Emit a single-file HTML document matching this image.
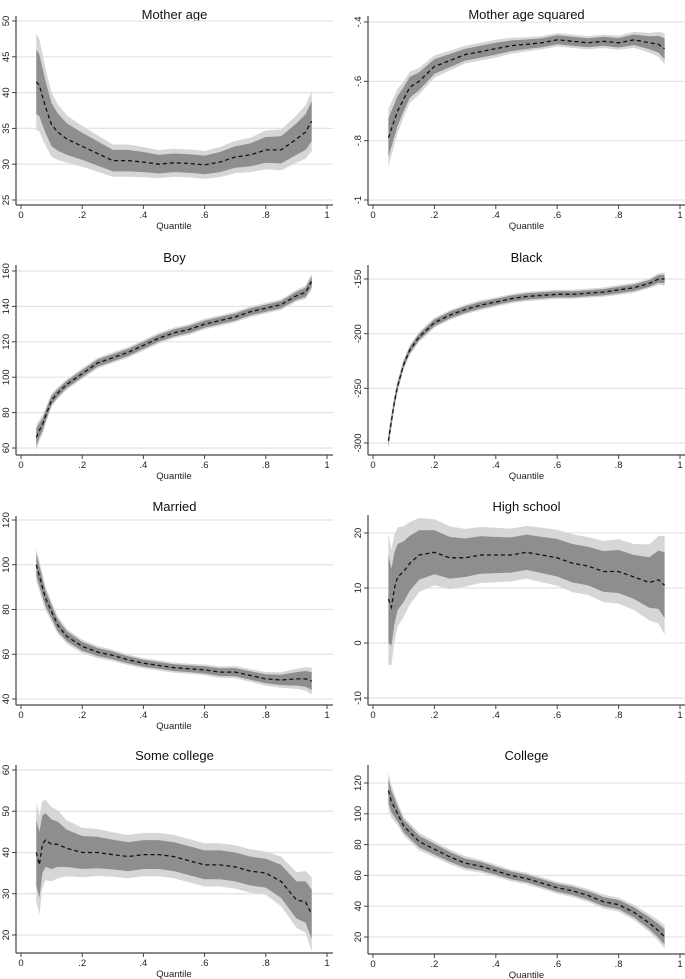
<!DOCTYPE html>
<html><head><meta charset="utf-8">
<style>
html,body{margin:0;padding:0;background:#fff;}
svg{display:block;font-family:"Liberation Sans",Arial,sans-serif;}
</style></head>
<body>
<svg id="fig" width="685" height="979" viewBox="0 0 685 979" xmlns="http://www.w3.org/2000/svg"></svg>
<script>
// Shared quantile grid
const quantiles = [0.05,0.06,0.07,0.08,0.10,0.12,0.15,0.20,0.25,0.30,0.35,0.40,0.45,0.50,0.55,0.60,0.65,0.70,0.75,0.80,0.85,0.90,0.93,0.95];
const xTickValues = [0,0.2,0.4,0.6,0.8,1];
const xTickLabels = ["0",".2",".4",".6",".8","1"];

// Mother age
const motherAgeCoef = [41.5,41,39.5,38,35.5,34.5,33.5,32.5,31.5,30.5,30.5,30.3,30,30.2,30.1,29.9,30.3,31,31.3,32,32,33.5,34.5,36];
const motherAgeHW   = [4.5,4.3,4,3.6,3,2.6,2.2,1.9,1.7,1.5,1.5,1.4,1.3,1.3,1.3,1.3,1.4,1.5,1.6,1.8,1.9,2.2,2.5,2.8];
const motherAgeTicks = [25,30,35,40,45,50];
// Mother age squared
const motherAgeSqCoef = [-0.79,-0.76,-0.73,-0.70,-0.66,-0.62,-0.60,-0.55,-0.53,-0.51,-0.50,-0.49,-0.48,-0.475,-0.47,-0.46,-0.465,-0.47,-0.465,-0.47,-0.46,-0.47,-0.475,-0.49];
const motherAgeSqHW   = [0.065,0.06,0.055,0.05,0.04,0.035,0.03,0.025,0.022,0.02,0.02,0.02,0.018,0.016,0.015,0.015,0.015,0.015,0.015,0.016,0.018,0.022,0.028,0.035];
const motherAgeSqTicks = [-1,-0.8,-0.6,-0.4];
const motherAgeSqLabels = ["-1","-.8","-.6","-.4"];
// Boy
const boyCoef = [66,70,73,78,87,91,96,102,108,111,114,118,122,125,127,130,132,134,137,139,141,146,148,154];
const boyHW   = [5,4,3.5,3,2.5,2.2,2,2,2,2,2,2,2,2,2,2,2,2,2,2,2,2.2,2.5,3];
const boyTicks = [60,80,100,120,140,160];
// Black
const blackCoef = [-298,-280,-262,-248,-228,-215,-203,-190,-183,-178,-174,-171,-168,-166,-165,-164,-164,-163,-162,-160,-158,-154,-150,-150];
const blackHW   = [5,4.5,4,3.5,3,3,3,3,3,3,3,2.8,2.8,2.8,2.8,2.8,2.8,2.8,2.8,3,3,3,3.5,4];
const blackTicks = [-300,-250,-200,-150];
// Married
const marriedCoef = [100,95,90,85,79,73,68,63.5,61,59.5,57.5,56,55,54,53.5,53,52,52,50.5,49,48.5,49,49,48];
const marriedHW   = [5,4.5,4,3.5,3,2.6,2.2,2,1.8,1.7,1.6,1.5,1.5,1.5,1.5,1.6,1.7,1.8,1.9,2,2.3,3,3.5,4];
const marriedTicks = [40,60,80,100,120];
// High school
const hsCoef = [8,6.5,10,12,13,14.5,16,16.5,15.5,15.5,16,16,16,16.5,16,15.5,14.5,14,13,13,12,11,11.5,10.5];
const hsHW   = [8,7,6.5,6,5.5,5,4.5,4,3.8,3.5,3.4,3.3,3.2,3.2,3.3,3.4,3.5,3.5,3.7,3.9,4,4.6,5.3,6];
const hsTicks = [-10,0,10,20];
// Some college
const someColCoef = [40,37,42,43,42,42,41,40,40,39.5,39,39.5,39.5,39,38,37,37,36.5,35.5,35,33,28.5,28,25];
const someColHW   = [8,8,7,6.5,6,5.5,4.5,4,3.8,3.6,3.5,3.5,3.5,3.5,3.5,3.5,3.5,3.5,3.5,3.5,4,4.5,5,6];
const someColTicks = [20,30,40,50,60];
// College
const collegeCoef = [115,108,104,100,92,88,82,77,72,68,66,63,60,58,55,52,50,47,43,41,36,29,24,20];
const collegeHW   = [8,7,6,5,4,4,3.8,3.5,3.2,3,2.8,2.6,2.5,2.5,2.5,2.6,2.7,2.8,3,3,3.3,3.8,4.5,5];
const collegeTicks = [20,40,60,80,100,120];

const OUTER = 1.5;
const NS = "http://www.w3.org/2000/svg";
const svg = document.getElementById('fig');
function mk(tag, attrs, parent){
  const e = document.createElementNS(NS, tag);
  for (const k in attrs) e.setAttribute(k, attrs[k]);
  (parent||svg).appendChild(e);
  return e;
}

// Layout (pixel geometry, not data)
const panels = [
  {key:'mother-age', title:'Mother age', coef:motherAgeCoef, hw:motherAgeHW, ticks:motherAgeTicks, labels:null,
   ox:0, axisTop:16, axisBottom:205, vTop:50, pTop:21, vBot:25, pBot:200, titleY:19, xLab:true},
  {key:'mother-age-squared', title:'Mother age squared', coef:motherAgeSqCoef, hw:motherAgeSqHW, ticks:motherAgeSqTicks, labels:motherAgeSqLabels,
   ox:1, axisTop:16, axisBottom:205, vTop:-0.4, pTop:22, vBot:-1, pBot:200, titleY:19, xLab:true},
  {key:'boy', title:'Boy', coef:boyCoef, hw:boyHW, ticks:boyTicks, labels:null,
   ox:0, axisTop:265, axisBottom:455, vTop:160, pTop:271, vBot:60, pBot:448, titleY:262, xLab:true},
  {key:'black', title:'Black', coef:blackCoef, hw:blackHW, ticks:blackTicks, labels:null,
   ox:1, axisTop:265, axisBottom:455, vTop:-150, pTop:279, vBot:-300, pBot:443, titleY:262, xLab:true},
  {key:'married', title:'Married', coef:marriedCoef, hw:marriedHW, ticks:marriedTicks, labels:null,
   ox:0, axisTop:516, axisBottom:705, vTop:120, pTop:520, vBot:40, pBot:699, titleY:511, xLab:true},
  {key:'high-school', title:'High school', coef:hsCoef, hw:hsHW, ticks:hsTicks, labels:null,
   ox:1, axisTop:515, axisBottom:705, vTop:20, pTop:533, vBot:-10, pBot:698, titleY:511, xLab:false},
  {key:'some-college', title:'Some college', coef:someColCoef, hw:someColHW, ticks:someColTicks, labels:null,
   ox:0, axisTop:765, axisBottom:953, vTop:60, pTop:770, vBot:20, pBot:935, titleY:760, xLab:true},
  {key:'college', title:'College', coef:collegeCoef, hw:collegeHW, ticks:collegeTicks, labels:null,
   ox:1, axisTop:765, axisBottom:954, vTop:120, pTop:783, vBot:20, pBot:937, titleY:760, xLab:true}
];

panels.forEach(p => {
  const axisX = p.ox ? 368 : 16;
  const x0 = p.ox ? 373 : 21, x1 = p.ox ? 680 : 327;
  const gridEnd = p.ox ? 685 : 333;
  const xs = v => x0 + (x1 - x0) * v;
  const ys = v => p.pBot + (p.pTop - p.pBot) * (v - p.vBot) / (p.vTop - p.vBot);
  const g = mk('g', {});
  
  

  // title
  const t = mk('text', {x:(axisX+gridEnd)/2, y:p.titleY, 'text-anchor':'middle', 'font-size':13, fill:'#111'}, g);
  t.textContent = p.title;
  
  

  // gridlines + y ticks
  p.ticks.forEach((v, i) => {
    const y = ys(v);
    const gl = mk('line', {x1:axisX, x2:gridEnd, y1:y, y2:y, stroke:'#e3e3e3', 'stroke-width':1.2}, g);
    
    
    mk('line', {x1:axisX-4, x2:axisX, y1:y, y2:y, stroke:'#444', 'stroke-width':1}, g);
    const lab = p.labels ? p.labels[i] : String(v);
    const tx = axisX - 7;
    const tl = mk('text', {x:tx, y:y, transform:`rotate(-90 ${tx} ${y})`, 'text-anchor':'middle', 'font-size':9.5, fill:'#222'}, g);
    tl.textContent = lab;
    
    
  });

  // bands
  const up = (k) => quantiles.map((q, i) => xs(q).toFixed(1) + ',' + ys(p.coef[i] + k * p.hw[i]).toFixed(1));
  const outerPts = up(OUTER).concat(up(-OUTER).reverse()).join(' ');
  const innerPts = up(1).concat(up(-1).reverse()).join(' ');
  const ob = mk('polygon', {points:outerPts, fill:'#d6d6d6'}, g);
  
  
  const ib = mk('polygon', {points:innerPts, fill:'#8e8e8e'}, g);
  
  
  const ln = mk('polyline', {points:up(0).join(' '), fill:'none', stroke:'#111', 'stroke-width':1.3, 'stroke-dasharray':'4 3'}, g);
  
  

  // axes
  const ya = mk('line', {x1:axisX, x2:axisX, y1:p.axisTop, y2:p.axisBottom, stroke:'#444', 'stroke-width':1.2}, g);
  
  
  const xa = mk('line', {x1:axisX, x2:gridEnd, y1:p.axisBottom, y2:p.axisBottom, stroke:'#444', 'stroke-width':1.2}, g);
  
  
  xTickValues.forEach((v, i) => {
    const x = xs(v);
    mk('line', {x1:x, x2:x, y1:p.axisBottom, y2:p.axisBottom+4, stroke:'#444', 'stroke-width':1}, g);
    const tl = mk('text', {x:x, y:p.axisBottom+13, 'text-anchor':'middle', 'font-size':9.5, fill:'#222'}, g);
    tl.textContent = xTickLabels[i];
    
    
  });
  if (p.xLab) {
    const xl = mk('text', {x:(x0+x1)/2, y:p.axisBottom+24, 'text-anchor':'middle', 'font-size':9.5, fill:'#222'}, g);
    xl.textContent = 'Quantile';
    
    
  }
});
</script>
</body></html>
